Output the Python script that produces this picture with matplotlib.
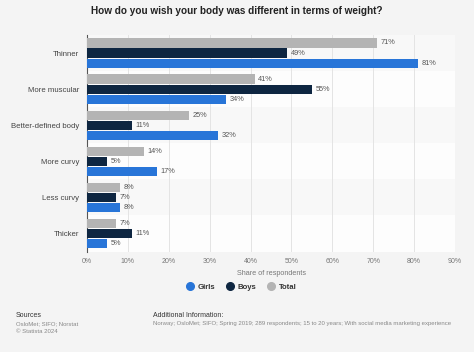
import numpy as np
import matplotlib
matplotlib.use('Agg')
import matplotlib.pyplot as plt
from matplotlib.lines import Line2D

categories = ['Thinner', 'More muscular', 'Better-defined body', 'More curvy', 'Less curvy', 'Thicker']
total = [71, 41, 25, 14, 8, 7]
boys = [49, 55, 11, 5, 7, 11]
girls = [81, 34, 32, 17, 8, 5]
xticks = [0, 10, 20, 30, 40, 50, 60, 70, 80, 90]

c_girls = '#2875d8'
c_boys = '#0e2641'
c_total = '#b4b4b4'
bg = '#f4f4f4'

plt.rcParams['font.family'] = ['Liberation Sans', 'DejaVu Sans']

fig = plt.figure(figsize=(4.74, 3.52), dpi=100)
fig.patch.set_facecolor(bg)
ax = fig.add_axes([0.1835, 0.2855, 0.7765, 0.615])
ax.set_facecolor('#fcfcfc')

n = len(categories)
y = np.arange(n)
step = 0.28
h = 0.255

# alternating bands
for i in range(n):
    col = '#f8f8f8' if i % 2 == 0 else '#fdfdfd'
    ax.axhspan(i - 0.5, i + 0.5, color=col, zorder=0, lw=0)

series = [(total, c_total, -step), (boys, c_boys, 0), (girls, c_girls, step)]
for vals, col, off in series:
    bars = ax.barh(y + off, vals, height=h, color=col, zorder=3)
    for b, v in zip(bars, vals):
        ax.text(v + 0.9, b.get_y() + b.get_height() / 2, '%d%%' % v,
                va='center', ha='left', fontsize=5.3, color='#555555', zorder=4)

ax.set_ylim(n - 0.5, -0.5)
ax.set_xlim(0, 90)
ax.set_xticks(xticks)
ax.set_xticklabels(['%d%%' % t for t in xticks], fontsize=5, color='#777777')
ax.set_yticks(y)
ax.set_yticklabels(categories, fontsize=5.6, color='#444444')
ax.tick_params(axis='both', length=0, pad=5)
ax.tick_params(axis='y', pad=5.5)
ax.grid(axis='x', color='#e4e4e4', lw=0.7, zorder=1)
for s in ['top', 'right', 'bottom']:
    ax.spines[s].set_visible(False)
ax.spines['left'].set_color('#555555')
ax.spines['left'].set_linewidth(0.8)
ax.set_xlabel('Share of respondents', fontsize=5.2, color='#777777', labelpad=3)

fig.text(0.5, 0.968, 'How do you wish your body was different in terms of weight?',
         ha='center', va='center', fontsize=7.2, fontweight='bold', color='#222222')

handles = [Line2D([0], [0], marker='o', ls='', markersize=5.5, markerfacecolor=c, markeredgecolor=c)
           for c in (c_girls, c_boys, c_total)]
leg = fig.legend(handles, ['Girls', 'Boys', 'Total'], loc='center', bbox_to_anchor=(0.505, 0.185),
                 ncol=3, frameon=False, fontsize=5.6, handletextpad=0.05, columnspacing=0.8)
for t in leg.get_texts():
    t.set_fontweight('bold')
    t.set_color('#333333')

fig.text(0.033, 0.104, 'Sources', fontsize=5, color='#333333', va='center')
fig.text(0.033, 0.08, 'OsloMet; SIFO; Norstat', fontsize=4.3, color='#888888', va='center')
fig.text(0.033, 0.058, '© Statista 2024', fontsize=4.3, color='#888888', va='center')
fig.text(0.323, 0.104, 'Additional Information:', fontsize=5, color='#333333', va='center')
fig.text(0.323, 0.08, 'Norway; OsloMet; SIFO; Spring 2019; 289 respondents; 15 to 20 years; With social media marketing experience',
         fontsize=4.3, color='#888888', va='center')

fig.savefig('out.png', dpi=100, facecolor=bg)
